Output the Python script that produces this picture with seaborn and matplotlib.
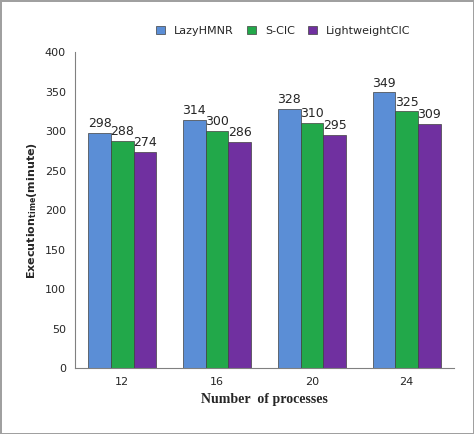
import numpy as np
import pandas as pd
import seaborn as sns
import matplotlib
matplotlib.use("Agg")
import matplotlib.pyplot as plt

processes = ["12", "16", "20", "24"]
lazy = [298, 314, 328, 349]
scic = [288, 300, 310, 325]
light = [274, 286, 295, 309]
methods = ["LazyHMNR", "S-CIC", "LightweightCIC"]

df = pd.DataFrame({
    "proc": processes * 3,
    "time": lazy + scic + light,
    "method": [m for m in methods for _ in processes],
})

sns.set_style("white")
plt.rcParams['font.family'] = ['DejaVu Sans']

fig = plt.figure(figsize=(4.74, 4.34), dpi=100)
fig.patch.set_edgecolor("#a0a0a0")
fig.patch.set_linewidth(2)
ax = fig.add_axes([0.158, 0.152, 0.8, 0.728])

palette = ["#5b8ed6", "#22a84a", "#7030a0"]
sns.barplot(data=df, x="proc", y="time", hue="method", palette=palette,
            width=0.72, edgecolor="#404040", linewidth=0.5, saturation=1, ax=ax)

for c in ax.containers:
    ax.bar_label(c, fontsize=9, padding=2)

ax.set_ylim(0, 400)
ax.set_yticks(range(0, 401, 50))
ax.tick_params(labelsize=8, length=3)
ax.tick_params(axis="both", direction="out")
for s in ["top", "right"]:
    ax.spines[s].set_visible(False)
for s in ["left", "bottom"]:
    ax.spines[s].set_color("#808080")
ax.set_xlabel("Number  of processes", family="Liberation Serif", fontweight="bold", fontsize=10)
ax.set_ylabel(r"Execution$_{\mathbf{time}}$(minute)", fontweight="bold", fontsize=8)
ax.legend(loc="lower center", bbox_to_anchor=(0.55, 1.02), ncol=3, fontsize=8,
          frameon=False, handlelength=0.8, columnspacing=1.2)

fig.savefig("out.png", dpi=100, edgecolor=fig.get_edgecolor())
